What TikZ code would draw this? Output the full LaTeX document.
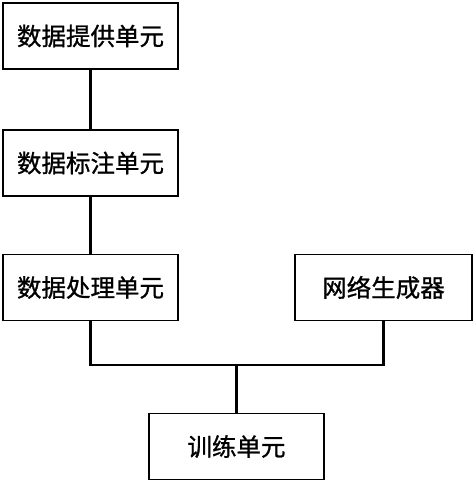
\documentclass[tikz,border=0pt]{standalone}
\usepackage{fontspec}
\setmainfont{Noto Sans CJK SC}[FakeBold=1]
\usepackage{tikz}

\begin{document}
\begin{tikzpicture}[x=1pt,y=-1pt,
	unit/.style={shape=rectangle,draw=black,line width=1.6pt,minimum width=175pt,minimum height=66pt,inner sep=0pt,font=\fontsize{24.5}{28}\selectfont},
	link/.style={line width=2.6pt}]
	\useasboundingbox (0,0) rectangle (474,484);
	
	\node[unit] (tigong) at (90.5, 36)     {数据提供单元};
	\node[unit] (biaozhu) at (90.5, 163)     {数据标注单元};
	\node[unit] (chuli) at (90.5, 287.5)     {数据处理单元};
	\node[unit,minimum width=177pt] (wangluo) at (383.5, 287.5)     {网络生成器};
	\node[unit] (xunlian) at (236.5, 446.5)     {训练单元};
	\coordinate (hub) at (236.5, 365);
	
	
	\path[-,link] (tigong) edge (biaozhu);
	\path[-,link] (biaozhu) edge (chuli);
	\draw[link] (chuli.south) |- (hub) -| (wangluo.south);
	\draw[link] (hub) -- (xunlian.north);

	\end{tikzpicture}
\end{document}
